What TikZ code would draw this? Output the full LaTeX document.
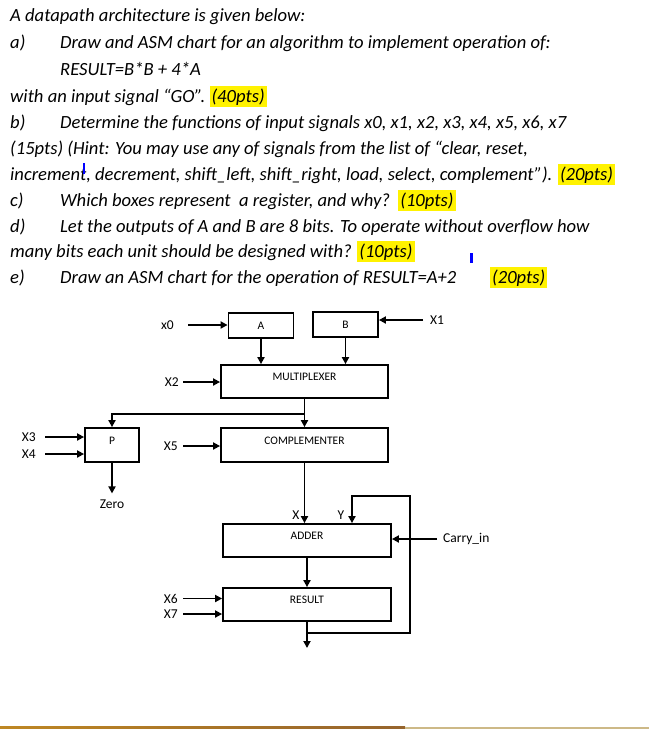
\documentclass[tikz,border=0pt]{standalone}
\usepackage{fontspec}
\setmainfont{Carlito}
\usetikzlibrary{arrows.meta,positioning}

\definecolor{ruleleft}{RGB}{190,135,35}
\definecolor{rulemid}{RGB}{150,100,45}
\definecolor{ruleright}{RGB}{205,185,135}

\newcommand{\hlpts}[1]{{\setlength{\fboxsep}{2pt}\colorbox{yellow}{#1}}}
\newcommand{\itm}[1]{\makebox[50pt][l]{#1}}

\begin{document}
\begin{tikzpicture}[x=1pt, y=-1pt,
    qline/.style={font=\fontsize{18.6}{22}\selectfont\itshape, anchor=base west, inner sep=0pt},
    reg/.style={rectangle, draw, line width=1.8pt, minimum width=65pt, minimum height=25pt, inner sep=0pt, font=\fontsize{11.5}{13}\selectfont},
    unit/.style={rectangle, draw, line width=1.8pt, minimum width=167pt, minimum height=33pt, inner sep=0pt, text height=3pt, text depth=4.5pt, font=\fontsize{11.5}{13}\selectfont},
    sig/.style={font=\fontsize{13.5}{15}\selectfont, inner sep=0pt},
    wire/.style={line width=1.8pt, line join=miter},
    arr/.style={wire, -{Triangle[length=7pt,width=7pt]}}
]
\useasboundingbox (0,0) rectangle (649,729);

% Question text
\node[qline] (q1) at (10,21) {A datapath architecture is given below:};
\node[qline] (q2) at (10,48) {\itm{a)}Draw and ASM chart for an algorithm to implement operation of:};
\node[qline] (q3) at (60,75) {RESULT=B*B + 4*A};
\node[qline] (q4) at (10,102) {with an input signal “GO”. \hlpts{(40pts)}};
\node[qline] (q5) at (10,128) {\itm{b)}Determine the functions of input signals x0, x1, x2, x3, x4, x5, x6, x7};
\node[qline] (q6) at (10,154) {(15pts) (Hint: You may use any of signals from the list of “clear, reset,};
\node[qline] (q7) at (10,180) {increment, decrement, shift\_left, shift\_right, load, select, complement”). \hlpts{(20pts)}};
\node[qline] (q8) at (10,206) {\itm{c)}Which boxes represent\ \ a register, and why?\ \ \hlpts{(10pts)}};
\node[qline] (q9) at (10,232) {\itm{d)}Let the outputs of A and B are 8 bits. To operate without overflow how};
\node[qline] (q10) at (10,257) {many bits each unit should be designed with? \hlpts{(10pts)}};
\node[qline] (q11) at (10,283) {\itm{e)}Draw an ASM chart for the operation of RESULT=A+2};
\node[qline] (q11pts) at (490,283) {\hlpts{(20pts)}};

% stray cursor marks
\fill[blue] (82.5,163) rectangle (85,174);
\fill[blue] (470,253) rectangle (472.5,263);

% Registers and units
\node[reg] (boxA) at (261,325.5) {A};
\node[reg] (boxB) at (345.5,324.5) {B};
\node[unit] (mux) at (304.5,381.5) {MULTIPLEXER};
\node[unit, minimum height=34pt] (comp) at (304.5,445) {COMPLEMENTER};
\node[unit, minimum width=54pt, minimum height=34pt] (pbox) at (112,445) {P};
\node[unit, minimum width=168pt] (adder) at (307,540.5) {ADDER};
\node[unit, minimum width=168pt] (result) at (307,604.5) {RESULT};

% Control signals
\node[sig, anchor=east] (lx0) at (174,325) {x0};
\node[sig, anchor=west] (lx1) at (430,320) {X1};
\node[sig, anchor=east] (lx2) at (179,382) {X2};
\node[sig, anchor=east] (lx3) at (36,437) {X3};
\node[sig, anchor=east] (lx4) at (36,454) {X4};
\node[sig, anchor=east] (lx5) at (178,446) {X5};
\node[sig, anchor=east] (lx6) at (178,598.5) {X6};
\node[sig, anchor=east] (lx7) at (178,614) {X7};
\node[sig, anchor=west] (carry) at (443,539) {Carry\_in};
\node[sig] (zero) at (112,504) {Zero};
\node[sig] (xlbl) at (296,515) {X};
\node[sig] (ylbl) at (341,515) {Y};

\draw[arr, shorten <=14pt] (lx0.east) -- (lx0.east -| boxA.west);
\draw[arr, shorten <=7pt] (lx1.west) -- (lx1.west -| boxB.east);
\draw[arr, shorten <=4pt] (lx2.east) -- (lx2.east -| mux.west);
\draw[arr, shorten <=9pt] (lx3.east) -- (lx3.east -| pbox.west);
\draw[arr, shorten <=9pt] (lx4.east) -- (lx4.east -| pbox.west);
\draw[arr, shorten <=5pt] (lx5.east) -- (lx5.east -| comp.west);
\draw[arr, shorten <=5pt] (lx6.east) -- (lx6.east -| result.west);
\draw[arr, shorten <=5pt] (lx7.east) -- (lx7.east -| result.west);
\draw[arr, shorten <=6pt] (carry.west) -- (carry.west -| adder.east);

% Data path
\draw[arr] (boxA.south) -- (boxA.south |- mux.north);
\draw[arr] (boxB.south) -- (boxB.south |- mux.north);
\draw[arr] (mux.south) -- (comp.north);
\coordinate[below=15pt of mux.south] (split);
\draw[arr] (split) -| (pbox.north);
\draw[arr, shorten >=6pt] (pbox.south) -- (zero.north);
\draw[arr] (comp.south) -- (comp.south |- adder.north);
\draw[arr] (adder.south) -- (result.north);

% Feedback to Y
\coordinate (out) at (307,648);
\coordinate[below=11pt of result.south] (loopsplit);
\coordinate (loopx) at (410,496);
\coordinate (yin) at (352,496);
\draw[arr] (result.south) -- (out);
\draw[arr] (loopsplit) -| (loopx) -- (yin) -- (yin |- adder.north);

% bottom rule
\shade[left color=ruleleft, right color=rulemid] (0,726.5) rectangle (405,729);
\fill[ruleright] (405,726.5) rectangle (649,729);

\end{tikzpicture}
\end{document}
